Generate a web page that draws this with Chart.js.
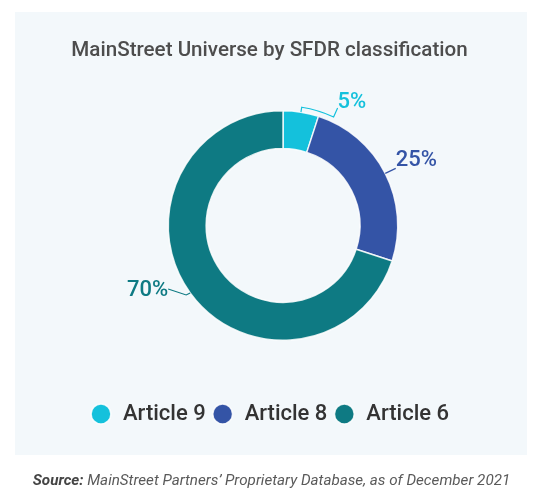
<!DOCTYPE html>
<html lang="en">
<head>
    <meta charset="UTF-8">
    <title>MainStreet Universe by SFDR classification</title>
    <script src="https://cdn.jsdelivr.net/npm/chart.js"></script>
    <style>
        html, body { margin: 0; padding: 0; background: #ffffff; }
        .wrap { position: relative; width: 537px; height: 500px; }
        canvas { position: absolute; left: 0; top: 0; }
        .source {
            position: absolute; left: 0; top: 471px; width: 543px;
            text-align: center; font-family: Roboto, sans-serif; font-size: 15.2px;
            font-style: italic; color: #5a5a5a; white-space: nowrap;
        }
        .source b { color: #444; }
    </style>
</head>
<body>
    <div class="wrap">
        <canvas id="grafico" width="537" height="500"></canvas>
        <div class="source"><b>Source:</b> MainStreet Partners’ Proprietary Database, as of December 2021</div>
    </div>

    <script>
        // data
        const categorias = ['Article 9', 'Article 8', 'Article 6'];
        const valores = [5, 25, 70];
        const colores = ['#14c1dc', '#3454a6', '#0e7a83'];

        // donut geometry (page pixels)
        const centro = { x: 283, y: 225.5 };
        const lado = 231;

        const panelFondo = {
            id: 'panelFondo',
            beforeDraw(chart) {
                const ctx = chart.ctx;
                ctx.save();
                ctx.fillStyle = '#f3f8fb';
                ctx.fillRect(15, 12, 512, 443);
                ctx.restore();
            }
        };

        // place the donut where the reference has it
        const colocarDonut = {
            id: 'colocarDonut',
            afterLayout(chart) {
                const a = chart.chartArea;
                a.left = centro.x - lado / 2;
                a.right = centro.x + lado / 2;
                a.top = centro.y - lado / 2;
                a.bottom = centro.y + lado / 2;
                a.width = lado;
                a.height = lado;
            }
        };

        // percentage labels with leader lines
        const etiquetas = {
            id: 'etiquetas',
            afterDatasetsDraw(chart) {
                const ctx = chart.ctx;
                const arcs = chart.getDatasetMeta(0).data;
                const total = valores.reduce((s, v) => s + v, 0);
                ctx.save();
                ctx.font = '500 22px Roboto, sans-serif';
                ctx.textBaseline = 'middle';
                ctx.lineWidth = 1.2;
                arcs.forEach((arc, i) => {
                    const p = arc.getProps(['x', 'y', 'startAngle', 'endAngle', 'outerRadius'], true);
                    const mid = (p.startAngle + p.endAngle) / 2;
                    const R = p.outerRadius;
                    const x0 = p.x + Math.cos(mid) * R;
                    const y0 = p.y + Math.sin(mid) * R;
                    const texto = Math.round(valores[i] / total * 100) + '%';
                    ctx.strokeStyle = colores[i];
                    ctx.fillStyle = colores[i];
                    ctx.beginPath();
                    ctx.moveTo(x0, y0);
                    if (i === 0) {
                        const r2 = R + 5;
                        const a2 = mid + 16 * Math.PI / 180;
                        ctx.lineTo(p.x + Math.cos(mid) * r2, p.y + Math.sin(mid) * r2);
                        ctx.arc(p.x, p.y, r2, mid, a2);
                        const xe = p.x + Math.cos(a2) * r2;
                        const ye = p.y + Math.sin(a2) * r2;
                        ctx.lineTo(xe + 4, ye - 9);
                        ctx.stroke();
                        ctx.textAlign = 'left';
                        ctx.fillText(texto, xe + 4, ye - 14);
                    } else if (i === 1) {
                        ctx.lineTo(x0 + 10.5, y0 - 5);
                        ctx.stroke();
                        ctx.textAlign = 'left';
                        ctx.fillText(texto, x0 + 10.5, y0 - 13);
                    } else {
                        ctx.lineTo(x0 - 4, y0 + 2);
                        ctx.lineTo(x0 - 22, y0 - 4);
                        ctx.stroke();
                        ctx.textAlign = 'right';
                        ctx.fillText(texto, x0 - 22, y0 - 2);
                    }
                });
                ctx.restore();
            }
        };

        const ctx = document.getElementById('grafico').getContext('2d');
        new Chart(ctx, {
            type: 'doughnut',
            data: {
                labels: categorias,
                datasets: [{
                    data: valores,
                    backgroundColor: colores,
                    borderColor: 'rgba(255,255,255,0.85)',
                    borderWidth: 1.5,
                    hoverOffset: 0
                }]
            },
            options: {
                responsive: false,
                animation: false,
                cutout: '67%',
                layout: { padding: { top: 0, bottom: 65, left: 12, right: 10 } },
                plugins: {
                    title: {
                        display: true,
                        text: 'MainStreet Universe by SFDR classification',
                        color: '#4d4d4d',
                        font: { family: 'Roboto, sans-serif', size: 20.6, weight: '500' },
                        padding: { top: 38, bottom: 0 }
                    },
                    legend: {
                        position: 'bottom',
                        labels: {
                            usePointStyle: true,
                            pointStyle: 'circle',
                            boxWidth: 22,
                            boxHeight: 14,
                            padding: 6,
                            color: '#333333',
                            font: { family: 'Roboto, sans-serif', size: 22, weight: '500' }
                        }
                    },
                    tooltip: { enabled: false }
                }
            },
            plugins: [panelFondo, colocarDonut, etiquetas]
        });
    </script>
</body>
</html>
